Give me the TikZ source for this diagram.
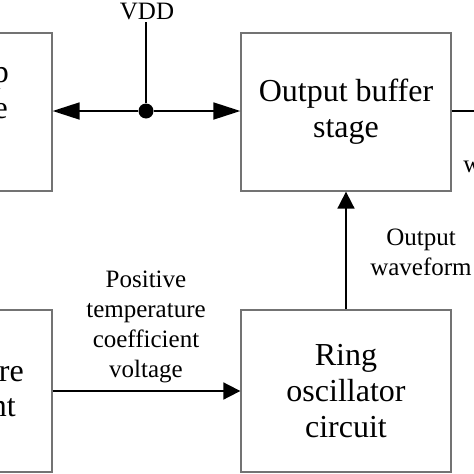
\documentclass[tikz,border=0pt]{standalone}
\usepackage{fontspec}
\setmainfont{Liberation Serif}
\usetikzlibrary{arrows.meta}
\begin{document}
\begin{tikzpicture}[x=1pt,y=-1pt,
  blockbox/.style={draw=black!55,line width=1.3pt,minimum width=210pt,inner sep=0pt,align=center,
    font=\fontsize{32}{36}\selectfont},
  lbl/.style={align=center,inner sep=0pt,font=\fontsize{25}{30}\selectfont},
  cut/.style={inner sep=0pt,font=\fontsize{32}{36}\selectfont},
  wire/.style={line width=1.8pt,black},
  arr/.style={wire,-{Triangle[length=17pt,width=17pt]}},
  longarr/.style={wire,-{Triangle[length=27pt,width=17pt]}}]
\useasboundingbox (0,0) rectangle (474,474);
\clip (0,0) rectangle (474,474);
\fill[white] (0,0) rectangle (474,474);
% blocks
\node[blockbox,minimum height=158pt] (tl) at (-53,112) {};
\node[blockbox,minimum height=158pt] (buf) at (346,112) {Output buffer\\stage};
\node[blockbox,minimum height=162pt] (ring) at (346,391) {Ring\\oscillator\\circuit};
\node[blockbox,minimum height=162pt] (bl) at (-53,391) {};
% clipped texts of the left blocks
\node[cut,anchor=base east] (tla) at (9,82) {Charge pump};
\node[cut,anchor=base east] (tlb) at (8,118) {module};
\node[cut,anchor=base east] (bla) at (24,381) {Temperature};
\node[cut,anchor=base east] (blb) at (16,416) {element};
% supply
\node[circle,fill=black,inner sep=0pt,minimum size=15pt] (dot) at (146,111) {};
\node[lbl] (vdd) at (147,12) {VDD};
\coordinate (vddtop) at (146,22);
\draw[wire] (dot) -- (vddtop);
\draw[longarr] (dot) -- (tl.east |- dot);
\draw[longarr] (dot) -- (buf.west |- dot);
% output to the right
\coordinate (outend) at (490,111);
\draw[wire] (buf.east |- dot) -- (outend);
\node[lbl] (outlbl) at (514,149) {Output\\waveform};
% ring to buffer
\draw[arr] (ring.north) -- (buf.south);
\node[lbl] (wavelbl) at (421,252) {Output\\waveform};
% temperature voltage
\draw[arr] (bl.east) -- (ring.west);
\node[lbl] (ptc) at (146,327) {Positive\\temperature\\coefficient\\voltage};
\end{tikzpicture}
\end{document}
